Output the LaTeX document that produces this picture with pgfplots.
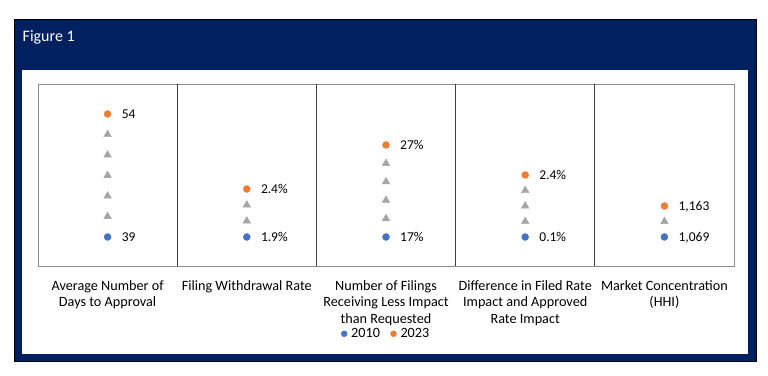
\documentclass[border=0pt]{standalone}
\usepackage{pgfplots}
\pgfplotsset{compat=1.18}
\usepackage{fontspec}
\setmainfont{Carlito}

\definecolor{navy}{HTML}{002060}
\definecolor{c2010}{HTML}{4472C4}
\definecolor{c2023}{HTML}{ED7D31}
\definecolor{cstep}{HTML}{A5A5A5}
\definecolor{framegray}{HTML}{8C8C8C}
\definecolor{divgray}{HTML}{404040}

\newcommand\labelfont{\fontsize{14.2}{16.7}\selectfont}
\newcommand\valfont{\fontsize{13.5}{16}\selectfont}

\pgfplotsset{
  panel/.style={
    width=139.2pt, height=182pt, scale only axis,
    xmin=0, xmax=1, xtick=\empty, ytick=\empty,
    axis line style={draw=framegray, line width=0.9pt},
    clip=false,
    xlabel style={at={(axis description cs:0.5,0)}, anchor=north,
      yshift=-14pt, align=center, inner sep=0pt,
      font=\labelfont, text=black},
  },
  ends/.style={only marks, mark=*, mark size=3.5pt,
    nodes near coords, point meta=explicit symbolic,
    nodes near coords align={anchor=base west},
    every node near coord/.append style={anchor=base west, inner sep=0pt,
      xshift=14pt, yshift=-4.4pt, font=\valfont, text=black}},
  steps/.style={only marks, mark=triangle*, mark size=4.4pt,
    color=cstep, forget plot},
}

\begin{document}
\begin{tikzpicture}
  % frame and title bar
  \begin{scope}[x=1pt,y=1pt]
    \fill[white] (0,0) rectangle (768,375);
    \fill[navy, draw=black, line width=0.6pt] (14,14) rectangle (756,356);
    \fill[white] (22,21) rectangle (748,305);
    \node[anchor=base west, inner sep=0pt, text=white,
          font=\fontsize{16}{19}\selectfont] at (22.5,333) {Figure 1};
  \end{scope}

  % panel 1
  \begin{axis}[panel, at={(38pt,109pt)}, anchor=south west,
      ymin=35.463, ymax=57.659,
      xlabel={Average Number of\\Days to Approval}]
    \addplot[steps] coordinates {(0.5,41.5) (0.5,44) (0.5,46.5) (0.5,49) (0.5,51.5)};
    \addplot[ends, color=c2010] coordinates {(0.5,39) [39]};
    \addplot[ends, color=c2023] coordinates {(0.5,54) [54]};
  \end{axis}

  % panel 2
  \begin{axis}[panel, at={(177.2pt,109pt)}, anchor=south west,
      ymin=1.5979, ymax=3.4938,
      xlabel={Filing Withdrawal Rate}]
    \addplot[steps] coordinates {(0.5,2.0667) (0.5,2.2333)};
    \addplot[ends, color=c2010] coordinates {(0.5,1.9) [1.9\%]};
    \addplot[ends, color=c2023] coordinates {(0.5,2.4) [2.4\%]};
  \end{axis}

  % panel 3 (carries the legend)
  \begin{axis}[panel, at={(316.4pt,109pt)}, anchor=south west,
      ymin=13.848, ymax=33.630,
      xlabel={Number of Filings\\Receiving Less Impact\\than Requested},
      legend columns=2,
      legend image code/.code={\draw[#1, mark size=3pt] plot coordinates {(0pt,0pt)};},
      legend style={at={(0.5,-0.3725)}, anchor=center, draw=none, fill=none,
        inner sep=0pt, font=\labelfont,
        nodes={inner sep=1.5pt},
        /tikz/every odd column/.append style={column sep=2.5pt},
        /tikz/every even column/.append style={column sep=9pt}}]
    \addplot[steps] coordinates {(0.5,19) (0.5,21) (0.5,23) (0.5,25)};
    \addplot[ends, color=c2010] coordinates {(0.5,17) [17\%]};
    \addlegendentry{2010}
    \addplot[ends, color=c2023] coordinates {(0.5,27) [27\%]};
    \addlegendentry{2023}
  \end{axis}

  % panel 4
  \begin{axis}[panel, at={(455.6pt,109pt)}, anchor=south west,
      ymin=-0.9758, ymax=5.7758,
      xlabel={Difference in Filed Rate\\Impact and Approved\\Rate Impact}]
    \addplot[steps] coordinates {(0.5,0.675) (0.5,1.25) (0.5,1.825)};
    \addplot[ends, color=c2010] coordinates {(0.5,0.1) [0.1\%]};
    \addplot[ends, color=c2023] coordinates {(0.5,2.4) [2.4\%]};
  \end{axis}

  % panel 5
  \begin{axis}[panel, at={(594.8pt,109pt)}, anchor=south west,
      ymin=981.06, ymax=1532.9,
      xlabel={Market Concentration\\(HHI)}]
    \addplot[steps] coordinates {(0.5,1116)};
    \addplot[ends, color=c2010] coordinates {(0.5,1069) [{1,069}]};
    \addplot[ends, color=c2023] coordinates {(0.5,1163) [{1,163}]};
  \end{axis}

  % darker dividers between panels
  \foreach \xd in {177.2,316.4,455.6,594.8}
    \draw[divgray, line width=0.9pt] (\xd pt,109pt) -- (\xd pt,291pt);

  \pgfresetboundingbox
  \path (0pt,0pt) rectangle (768pt,375pt);
\end{tikzpicture}
\end{document}
